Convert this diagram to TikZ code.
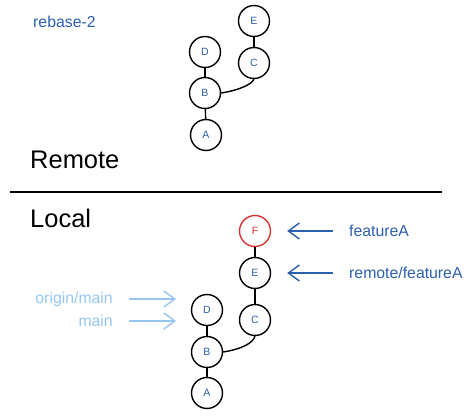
\documentclass[tikz,border=0pt]{standalone}
\usepackage{fontspec}
\setmainfont{Liberation Sans}
\usepackage{tikz}
\usetikzlibrary{arrows.meta, positioning, calc}
\definecolor{inkblue}{RGB}{45, 95, 175}
\definecolor{paleblue}{RGB}{150, 198, 240}
\definecolor{commitred}{RGB}{215, 50, 50}

\begin{document}
\begin{tikzpicture}[
    x=0.02cm, y=-0.02cm,
    commit/.style={circle, draw=black, thick, fill=white, minimum size=0.62cm, inner sep=0pt, text=inkblue, font=\fontsize{6}{7}\selectfont},
    newcommit/.style={commit, draw=commitred, text=commitred},
    link/.style={thick, draw=black},
    refarrow/.style={-{Straight Barb[length=2.2mm, width=3.2mm]}, thick, draw=inkblue},
    oldarrow/.style={-{Straight Barb[length=2.2mm, width=3.2mm]}, thick, draw=paleblue},
    reflabel/.style={text=inkblue, font=\fontsize{9}{10}\selectfont},
    oldlabel/.style={text=paleblue, font=\fontsize{9}{10}\selectfont},
    heading/.style={font=\fontsize{14.5}{16}\selectfont, anchor=west}
]
\useasboundingbox (0,0) rectangle (474,416);

% Remote
\node[reflabel, anchor=west] (title) at (27,22) {rebase-2};
\node[commit] (rA) at (206,135) {A};
\node[commit] (rB) at (205,93) {B};
\node[commit] (rD) at (205,52) {D};
\node[commit] (rC) at (254,63) {C};
\node[commit] (rE) at (254,21) {E};
\draw[link] (rA) -- (rB);
\draw[link] (rB) -- (rD);
\draw[link] (rC) -- (rE);
\draw[link] (rB.east) .. controls (240,90) and (252,84) .. (rC.south);
\node[heading] (remote) at (24,160) {Remote};

% divider
\coordinate (divL) at (10,192);
\coordinate (divR) at (442,192);
\draw[thick] (divL) -- (divR);

% Local
\node[heading] (local) at (24,218) {Local};
\node[commit] (lA) at (207,393) {A};
\node[commit] (lB) at (207,352) {B};
\node[commit] (lD) at (207,310) {D};
\node[commit] (lC) at (255,320) {C};
\node[commit] (lE) at (255,273) {E};
\node[newcommit] (lF) at (255,231) {F};
\draw[link] (lA) -- (lB);
\draw[link] (lB) -- (lD);
\draw[link] (lC) -- (lE);
\draw[link] (lE) -- (lF);
\draw[link] (lB.east) .. controls (242,349) and (253,343) .. (lC.south);

% branch pointers
\node[reflabel, anchor=west] (featA) at (343,231) {featureA};
\node[reflabel, anchor=west] (remfeatA) at (343,273) {remote/featureA};
\draw[refarrow] (featA.west) ++(-10,0) -- ($(lF.east)+(16,0)$);
\draw[refarrow] (remfeatA.west) ++(-10,0) -- ($(lE.east)+(16,0)$);
\node[oldlabel, anchor=east] (origmain) at (119,299) {origin/main};
\node[oldlabel, anchor=east] (mainlbl) at (119,321) {main};
\coordinate (origtip) at (176,299);
\coordinate (maintip) at (176,321);
\draw[oldarrow] (origmain.east) ++(10,0) -- (origtip);
\draw[oldarrow] (mainlbl.east) ++(10,0) -- (maintip);
\end{tikzpicture}
\end{document}
